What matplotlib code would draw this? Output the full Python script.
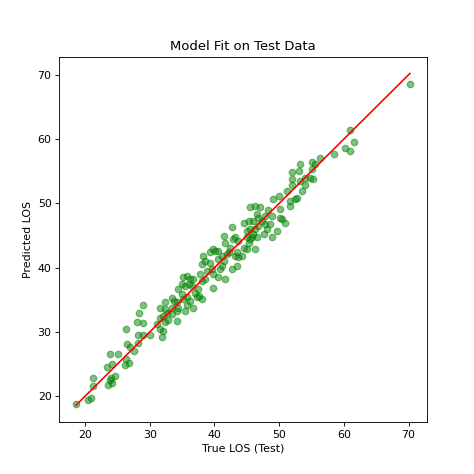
import numpy as np
import matplotlib
matplotlib.use("Agg")
import matplotlib.pyplot as plt

# true vs predicted length of stay
true_los = [
    18.6, 20.4, 21.0, 21.3, 21.3, 23.6, 24.1, 23.9, 24.0, 24.7, 23.4, 24.1, 23.9,
    25.1, 26.2, 26.8, 26.3, 26.5, 27.0, 27.5, 26.4, 28.2, 28.2, 28.0, 28.3,
    29.0, 29.0, 29.0, 30.0, 31.9, 31.6, 32.1, 31.6, 32.1, 31.6, 32.4, 32.9, 32.6,
    33.4, 33.7, 33.4, 34.2, 34.4, 35.5, 35.7, 36.7, 34.2, 35.0, 35.1, 35.7, 36.2,
    37.3, 37.0, 35.0, 35.2, 35.7, 36.2, 36.7, 35.5, 36.5, 37.5, 37.6,
    34.4, 38.0, 32.4, 34.2, 33.4, 31.1, 32.4, 36.0,
    38.0, 38.6, 38.3, 39.3, 39.8, 40.1, 40.6, 38.8, 39.6, 39.8, 38.6, 39.8, 41.6,
    40.9, 41.1, 41.4, 41.9, 41.6, 41.4, 42.4, 42.9, 43.2, 43.5, 43.7, 43.2, 42.7,
    43.5, 44.2, 44.5, 45.0, 46.3, 45.3, 45.5, 46.0, 45.8, 45.0, 45.5, 46.3, 44.5,
    45.3, 42.7, 45.5, 46.3, 47.1, 46.5, 46.8,
    46.0, 46.8, 46.5, 43.7, 41.1, 42.2, 39.3, 40.6, 37.8, 38.0, 40.6,
    48.9, 47.8, 45.0,
    47.3, 47.8, 48.3, 49.1, 49.9, 50.1, 50.1, 50.4, 50.9, 49.6, 48.6, 47.6, 48.9,
    48.1, 51.2, 51.7, 51.7, 52.0, 52.0, 52.0, 52.7, 52.5, 53.0, 53.2, 53.5, 54.0,
    53.2, 54.0, 54.8, 55.0, 55.0, 55.3, 55.6, 56.3,
    58.4, 60.2, 61.0, 60.9, 61.6, 70.2,
]
pred_los = [
    18.8, 19.4, 19.7, 22.8, 21.6, 21.8, 22.0, 22.6, 22.8, 23.2, 24.6, 25.0, 26.6,
    26.5, 24.8, 25.2, 25.8, 28.1, 27.6, 27.0, 30.5, 29.5, 28.3, 31.6, 33.0,
    34.2, 31.4, 29.5, 29.5, 29.2, 30.4, 30.2, 32.2, 32.5, 33.7, 33.5, 31.8, 33.0,
    35.3, 34.8, 33.8, 33.3, 33.8, 33.3, 34.2, 33.7, 31.7, 35.9, 35.1, 35.4, 34.8,
    35.4, 36.1, 37.4, 38.5, 38.7, 38.2, 38.2, 37.2, 37.2, 36.7, 35.6,
    36.7, 35.1, 34.6, 34.6, 32.8, 31.2, 31.5, 37.4,
    40.6, 41.1, 41.8, 42.4, 42.9, 42.6, 42.6, 39.5, 39.8, 39.0, 38.2, 36.9, 38.2,
    39.8, 40.3, 41.1, 42.1, 43.9, 45.0, 43.1, 44.4, 44.7, 42.4, 41.6, 41.8, 39.8,
    40.3, 41.8, 43.1, 42.9, 42.9, 43.9, 44.4, 45.2, 44.7, 45.7, 46.0, 46.0, 47.0,
    47.3, 46.3, 49.5, 49.6, 49.4, 48.3, 47.8,
    47.3, 46.5, 44.7, 44.2, 41.8, 42.4, 40.8, 41.3, 39.0, 38.0, 38.5,
    48.1, 46.8, 44.7,
    47.3, 48.1, 48.9, 50.7, 51.2, 49.1, 47.8, 47.6, 47.0, 45.7, 46.8, 45.2, 44.7,
    46.0, 52.0, 50.4, 49.6, 52.8, 53.8, 54.8, 50.9, 50.7, 55.1, 56.1, 52.0, 52.8,
    53.5, 54.0, 54.0, 55.4, 56.4, 53.8, 56.1, 57.1,
    57.7, 58.6, 58.1, 61.4, 59.5, 68.6,
]

fig = plt.figure(figsize=(6, 6), dpi=79)
plt.scatter(true_los, pred_los, color='green', alpha=0.5)
lims = [min(true_los), max(true_los)]
plt.plot(lims, lims, color='red')
plt.title('Model Fit on Test Data')
plt.xlabel('True LOS (Test)')
plt.ylabel('Predicted LOS')
plt.savefig('out.png', dpi=79)
